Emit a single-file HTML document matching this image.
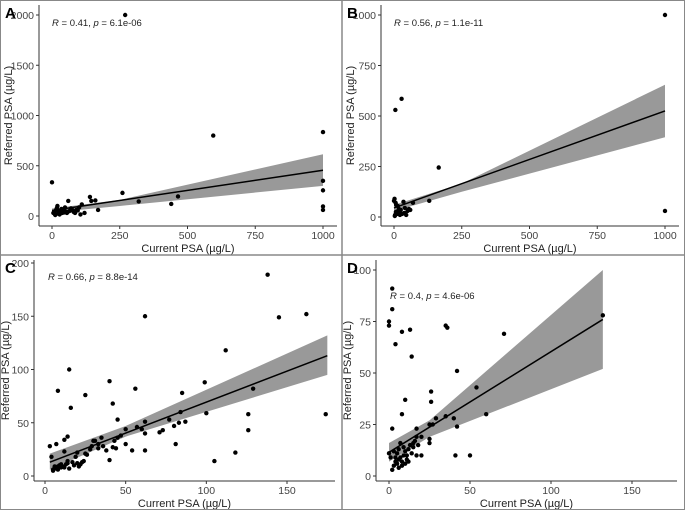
<!DOCTYPE html>
<html><head><meta charset="utf-8"><style>
body{margin:0;background:#fff;}
svg{display:block;font-family:"Liberation Sans",sans-serif;}
</style></head><body>
<svg id="c" width="685" height="510" viewBox="0 0 685 510"></svg>
<script>
// Panel A data
const aX=[270,595,1000,1000,1000,1000,1000,0,260,465,440,320,140,160,60,110,170,145,5,10,15,20,25,30,35,40,45,50,55,65,70,80,90,100,105,120,12,18,28,38,48,58,75,85,95,8,22,33];
const aY=[2000,800,835,350,255,95,60,335,230,195,120,145,190,155,150,115,60,150,30,20,60,100,40,25,70,55,35,45,30,50,75,40,60,85,15,30,10,80,15,30,85,40,60,30,55,40,25,50];
const aBandX=[0,250,1000];const aBandLo=[35,100,300];const aBandHi=[75,160,615];const aLine=[55,455];
// Panel B data
const bX=[1000,1000,28,5,165,130,70,35,0,2,4,6,8,10,12,15,18,20,25,30,40,45,50,55,3,7,14,22,38,60];
const bY=[1000,30,585,530,245,80,70,75,80,90,10,70,60,20,15,30,40,25,35,15,45,10,30,40,5,25,55,10,20,35];
const bBandX=[0,250,1000];const bBandLo=[30,125,395];const bBandHi=[60,165,655];const bLine=[45,525];
// Panel C data
const cX=[138,145,162,174,62,112,129,126,126,118,105,99,100,85,84,87,83,80,81,77,73,71,62,62,62,60,57,56,54,50,50,45,42,40,40,47,45,43,42,44,38,35,33,30,28,25,25,23,21,20,19,16,15,14,12,12,8,7,3,4,5,6,7,8,9,10,11,13,14,15,17,18,20,22,24,26,29,31,33,36,5,6,8,10,12,14];
const cY=[189,149,152,58,150,118,82,58,43,22,14,88,59,78,60,51,50,47,30,53,43,41,51,40,24,44,46,82,24,44,30,53,68,89,15,38,36,33,27,26,24,36,26,33,25,76,21,13,9,22,18,64,100,37,34,23,80,30,28,18,5,7,8,9,10,8,9,11,12,7,13,10,12,11,14,20,28,33,30,28,6,9,6,11,8,14];
const cBandX=[3,50,175];const cBandLo=[6,37,95];const cBandHi=[21,47,132];const cLine=[13,113];
// Panel D data
const dX=[132,71,60,54,50,42,42,41,40,35,36,35,29,27,26,26,25,25,25,20,20,17,17,17,14,13,8,8,10,4,2,2,0,0,2,0,1,2,3,4,5,6,7,8,9,10,11,12,13,14,15,16,18,5,6,7,9,11,12,4,3,6,8,10,15];
const dY=[78,69,30,43,10,51,24,10,28,73,72,29,28,25,41,36,25,18,16,19,10,23,19,10,58,71,70,30,37,64,91,81,75,73,23,11,9,3,5,7,6,8,9,5,10,12,8,13,15,11,16,17,15,11,13,16,14,10,7,9,12,4,7,6,14];
const dBandX=[0,25,132];const dBandLo=[7,19,52];const dBandHi=[16,27,100];const dLine=[11.5,76];

const aTicksX=[0,250,500,750,1000],aTicksY=[0,500,1000,1500,2000];
const bTicksX=[0,250,500,750,1000],bTicksY=[0,250,500,750,1000];
const cTicksX=[0,50,100,150],cTicksY=[0,50,100,150,200];
const dTicksX=[0,50,100,150],dTicksY=[0,25,50,75,100];

const svg=document.getElementById('c');const NS='http://www.w3.org/2000/svg';
function el(t,a,p){const e=document.createElementNS(NS,t);for(const k in a)e.setAttribute(k,a[k]);(p||svg).appendChild(e);return e;}
function panel(cfg){
  const g=el('g',{});
  
  
  const sx=v=>cfg.x0+(v-cfg.xd[0])/(cfg.xd[1]-cfg.xd[0])*(cfg.x1-cfg.x0);
  const sy=v=>cfg.y0+(v-cfg.yd[0])/(cfg.yd[1]-cfg.yd[0])*(cfg.y1-cfg.y0);
  // band
  let d='';cfg.bx.forEach((x,i)=>{d+=(i?'L':'M')+sx(x)+','+sy(cfg.hi[i]);});
  for(let i=cfg.bx.length-1;i>=0;i--)d+='L'+sx(cfg.bx[i])+','+sy(cfg.lo[i]);
  const band=el('path',{d:d+'Z',fill:'#999'},g);
  
  
  const bx0=cfg.bx[0],bx1=cfg.bx[cfg.bx.length-1];
  const ln=el('line',{x1:sx(bx0),y1:sy(cfg.line[0]),x2:sx(bx1),y2:sy(cfg.line[1]),stroke:'#000','stroke-width':1.5},g);
  
  
  cfg.px.forEach((x,i)=>{const c=el('circle',{cx:sx(x),cy:sy(cfg.py[i]),r:2.2,fill:'#000'},g);
    
    });
  // axes
  const ya=el('line',{x1:cfg.ax,y1:cfg.top,x2:cfg.ax,y2:cfg.ay,stroke:'#333','stroke-width':1},g);
  
  
  const xa=el('line',{x1:cfg.ax,y1:cfg.ay,x2:cfg.right,y2:cfg.ay,stroke:'#333','stroke-width':1},g);
  
  
  cfg.tx.forEach(t=>{el('line',{x1:sx(t),y1:cfg.ay,x2:sx(t),y2:cfg.ay+3,stroke:'#333'},g);
    const tl=el('text',{x:sx(t),y:cfg.ay+13,'font-size':10.5,fill:'#444','text-anchor':'middle'},g);tl.textContent=t;
    
    });
  cfg.ty.forEach(t=>{el('line',{x1:cfg.ax-3,y1:sy(t),x2:cfg.ax,y2:sy(t),stroke:'#333'},g);
    const tl=el('text',{x:cfg.ax-5,y:sy(t)+4,'font-size':10.5,fill:'#444','text-anchor':'end'},g);tl.textContent=t;
    
    });
  const xt=el('text',{x:(cfg.ax+cfg.right)/2,y:cfg.ay+26,'font-size':11,fill:'#222','text-anchor':'middle'},g);xt.textContent='Current PSA (µg/L)';
  
  
  const cy=(cfg.top+cfg.ay)/2;
  const yt=el('text',{x:cfg.ytx,y:cy,'font-size':11,fill:'#222','text-anchor':'middle',transform:`rotate(-90 ${cfg.ytx} ${cy})`},g);yt.textContent='Referred PSA (µg/L)';
  
  
  const lb=el('text',{x:cfg.lx,y:cfg.ly,'font-size':15,'font-weight':'bold',fill:'#000'},g);lb.textContent=cfg.id;
  
  
  const an=el('text',{x:cfg.anx,y:cfg.any,'font-size':9.5,fill:'#222'},g);
  an.innerHTML='<tspan font-style="italic">R</tspan> = '+cfg.r+', <tspan font-style="italic">p</tspan> = '+cfg.p;
  
  
}
panel({id:'A',xd:[0,1000],yd:[0,2000],x0:52,x1:323,y0:216,y1:15,ax:39,ay:226,top:5,right:337,px:aX,py:aY,bx:aBandX,lo:aBandLo,hi:aBandHi,line:aLine,tx:aTicksX,ty:aTicksY,ytx:12,lx:5,ly:18,anx:52,any:26,r:'0.41',p:'6.1e-06'});
panel({id:'B',xd:[0,1000],yd:[0,1000],x0:394,x1:665,y0:217,y1:15,ax:381,ay:226,top:5,right:679,px:bX,py:bY,bx:bBandX,lo:bBandLo,hi:bBandHi,line:bLine,tx:bTicksX,ty:bTicksY,ytx:354,lx:347,ly:18,anx:394,any:26,r:'0.56',p:'1.1e-11'});
panel({id:'C',xd:[0,150],yd:[0,200],x0:45,x1:287,y0:476,y1:263,ax:34,ay:481,top:260,right:335,px:cX,py:cY,bx:cBandX,lo:cBandLo,hi:cBandHi,line:cLine,tx:cTicksX,ty:cTicksY,ytx:9,lx:5,ly:273,anx:48,any:280,r:'0.66',p:'8.8e-14'});
panel({id:'D',xd:[0,150],yd:[0,100],x0:389,x1:632,y0:476,y1:270,ax:376,ay:481,top:260,right:677,px:dX,py:dY,bx:dBandX,lo:dBandLo,hi:dBandHi,line:dLine,tx:dTicksX,ty:dTicksY,ytx:351,lx:347,ly:273,anx:390,any:299,r:'0.4',p:'4.6e-06'});
// borders
[[0.5,0.5,684,509],[342,0,0,510],[0,255,685,0]].forEach(b=>{
  const r=el(b[2]&&b[3]?'rect':'line',b[2]&&b[3]?{x:b[0],y:b[1],width:b[2],height:b[3],fill:'none',stroke:'#888'}:{x1:b[0],y1:b[1],x2:b[0]+b[2],y2:b[1]+b[3],stroke:'#888','stroke-width':1.5});
  
  
});
</script>
</body></html>
